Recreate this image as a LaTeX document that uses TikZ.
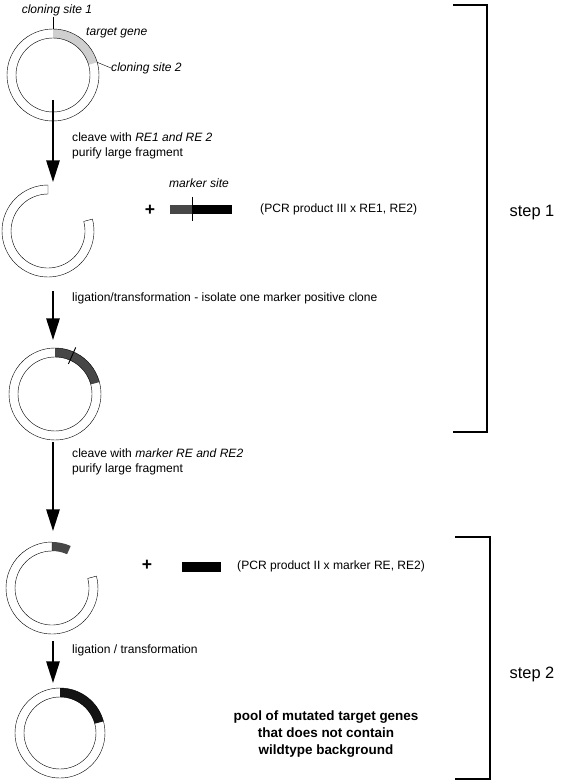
\documentclass[tikz,border=0pt]{standalone}
\usepackage{fontspec}
\setmainfont{Liberation Sans}
\usetikzlibrary{arrows.meta}

\begin{document}
\begin{tikzpicture}[x=0.3mm, y=0.3mm, line join=round, >={Triangle[width=4mm,length=6.5mm]},
  ring/.style={line width=0.35pt},
  flow/.style={->, line width=1.6pt},
  txt/.style={anchor=west, inner sep=0pt, align=left, font=\fontsize{10.3}{12.8}\selectfont},
  lbl/.style={inner sep=0pt, font=\fontsize{10.3}{12.8}\selectfont\itshape},
  plus/.style={inner sep=0pt, font=\fontsize{15}{16}\selectfont\bfseries},
  bracket/.style={line width=1.3pt, line join=miter},
  steplbl/.style={inner sep=0pt, font=\fontsize{14}{16}\selectfont}]
  \useasboundingbox (0,0) rectangle (561,-784);

  \coordinate (c1) at (53,-75);
  \coordinate (c2) at (48,-231);
  \coordinate (c3) at (55,-394);
  \coordinate (c4) at (52,-588);
  \coordinate (c5) at (60,-733);

  % plasmid with target gene
  \fill[gray!38] (c1) ++(90:46) arc[start angle=90, end angle=16, radius=46] -- ++(196:9)
    arc[start angle=16, end angle=90, radius=37] -- cycle;
  \draw[ring] (c1) circle[radius=46] (c1) circle[radius=37];
  \path (c1) ++(90:46) coordinate (cs1pt);
  \path (c1) ++(16:46) coordinate (cs2pt);
  \node[lbl] (cs1) at (57,-10) {cloning site 1};
  \node[lbl, anchor=west] (gene) at (86,-33) {target gene};
  \node[lbl, anchor=west] (cs2) at (111,-68) {cloning site 2};
  \draw[line width=0.8pt] (cs1.south -| cs1pt) ++(0,-1) -- (cs1pt);
  \draw[ring] (cs2pt) -- (cs2.west);

  \coordinate (a1s) at (53,-100);
  \coordinate (a1e) at (53,-182);
  \draw[flow] (a1s) -- (a1e);
  \node[txt] (cut1) at (72,-145.5) {cleave with \textit{RE1 and RE 2}\\purify large fragment};

  % cut vector + PCR product III
  \draw[ring] (c2) ++(90:46) arc[start angle=90, end angle=375, radius=46] -- ++(195:9)
    arc[start angle=375, end angle=90, radius=37] -- cycle;
  \node[plus] (plus1) at (150,-210) {+};
  \fill[black!72] (170,-205) rectangle (192,-214);
  \fill (192,-205) rectangle (232,-214);
  \draw[line width=0.8pt] (192,-197) -- (192,-221);
  \node[lbl] (msite) at (199,-183) {marker site};
  \node[txt] (pcr3) at (260,-209) {(PCR product III x RE1, RE2)};

  \coordinate (a2s) at (53,-291);
  \coordinate (a2e) at (53,-340);
  \draw[flow] (a2s) -- (a2e);
  \node[txt] (lig1) at (72,-298) {ligation/transformation - isolate one marker positive clone};

  % marker positive clone
  \fill[black!72] (c3) ++(90:46) arc[start angle=90, end angle=15, radius=46] -- ++(195:9)
    arc[start angle=15, end angle=90, radius=37] -- cycle;
  \draw[ring] (c3) circle[radius=46] (c3) circle[radius=37];
  \draw[line width=0.8pt] (c3) ++(66:33) -- ++(66:18);

  \coordinate (a3s) at (53,-442);
  \coordinate (a3e) at (53,-531);
  \draw[flow] (a3s) -- (a3e);
  \node[txt] (cut2) at (72,-462) {cleave with \textit{marker RE and RE2}\\purify large fragment};

  % cut vector + PCR product II
  \fill[black!72] (c4) ++(90:46) arc[start angle=90, end angle=66, radius=46] -- ++(246:9)
    arc[start angle=66, end angle=90, radius=37] -- cycle;
  \draw[ring] (c4) ++(90:46) arc[start angle=90, end angle=375, radius=46] -- ++(195:9)
    arc[start angle=375, end angle=90, radius=37] -- cycle;
  \node[plus] (plus2) at (147,-565) {+};
  \fill (182,-562) rectangle (221,-572);
  \node[txt] (pcr2) at (237,-566) {(PCR product II x marker RE, RE2)};

  \coordinate (a4s) at (53,-641);
  \coordinate (a4e) at (53,-683);
  \draw[flow] (a4s) -- (a4e);
  \node[txt] (lig2) at (72,-650) {ligation / transformation};

  % final pool
  \fill[black!92] (c5) ++(90:45) arc[start angle=90, end angle=15, radius=45] -- ++(195:9)
    arc[start angle=15, end angle=90, radius=36] -- cycle;
  \draw[ring] (c5) circle[radius=45] (c5) circle[radius=36];
  \node[inner sep=0pt, align=center, font=\fontsize{11.5}{14.5}\selectfont\bfseries] (pool) at (326,-734)
    {pool of mutated target genes\\that does not contain\\wildtype background};

  % steps
  \draw[bracket] (453,-5) -- (487,-5) -- (487,-432) -- (453,-432);
  \node[steplbl] (st1) at (532,-213) {step 1};
  \draw[bracket] (455,-537) -- (490,-537) -- (490,-779) -- (455,-779);
  \node[steplbl] (st2) at (532,-674) {step 2};
\end{tikzpicture}
\end{document}
